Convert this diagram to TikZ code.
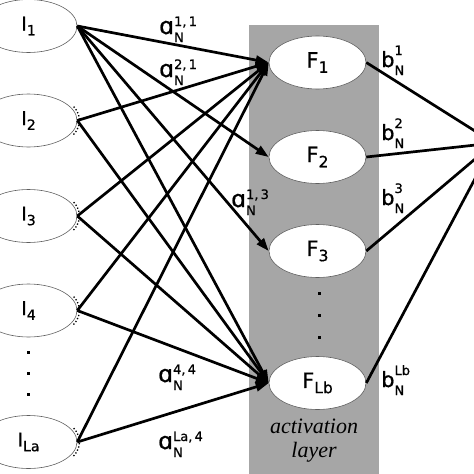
\documentclass[tikz,border=0pt]{standalone}
\usepackage{fontspec}
\usepackage{graphicx}
\setmainfont{DejaVu Sans}[FakeBold=0.8]
\newfontfamily\layerfont{Liberation Serif}
\usepackage{tikz}
\usetikzlibrary{
	positioning,		% Relative positioning
	shapes.geometric,	% Ellipse nodes
	arrows.meta,		% Arrow tips
	calc				% Coordinate calculation
}
\definecolor{layer-gray}{RGB}{166,166,166}
\definecolor{unit-border}{RGB}{95,95,95}

% Index set slightly below the baseline
\newcommand{\lowidx}[1]{\raisebox{-0.25em}{\scalebox{0.74}{#1}}}
% Weight letter with super- and subscript stacked
\newcommand{\wlabel}[4]{#1{\fontsize{13}{13}\selectfont\rlap{\raisebox{#4}{#2}}\rlap{\raisebox{-8pt}{#3}}\hphantom{#2}}}

\begin{document}
\begin{tikzpicture}[x=1pt, y=-1pt]
		\tikzstyle{unit} = [draw=unit-border, line width=0.6pt, fill=white, ellipse, inner sep=0pt, minimum width=97pt, minimum height=53pt]
		\tikzstyle{link} = [line width=2.7pt, -{Triangle[length=13pt, width=9pt]}]
		\tikzstyle{wire} = [line width=2.7pt]
		\tikzstyle{weight} = [anchor=base west, inner sep=0pt, font=\fontsize{23.5}{23.5}\selectfont]
		
		\useasboundingbox (0,0) rectangle (474,474);
		\clip (0,0) rectangle (474,474);
		
		% Activation layer
		\fill[layer-gray] (249,25) rectangle (379,480);
		\node[font=\layerfont\itshape\fontsize{22}{24}\selectfont, align=center, anchor=base] at (314,457) (layerText) {activation\\layer};
		
		% Input units
		\foreach \idx/\ypos/\name in {1/26/1, 2/120.5/2, 3/216/3, 4/310.5/4, 5/442/La}{
			\node[unit, font=\fontsize{19}{19}\selectfont] at (28.5,\ypos) (in\idx) {I\lowidx{\name}};
		}
		%% Dotted marks on the inputs
		\foreach \idx in {2, ..., 5}{
			\draw[dotted, line width=1.3pt] ($(in\idx.center)+(-28:51pt and 30pt)$) arc[start angle=-28, end angle=28, x radius=51pt, y radius=30pt];
		}
		%% Dots between inputs
		\foreach \ypos in {351, 372, 393}{
			\fill (26.5,\ypos) rectangle (29.5,\ypos+3);
		}
		
		% Activation units
		\foreach \idx/\ypos/\name in {1/62.5/1, 2/157/2, 3/251/3, 4/383/Lb}{
			\node[unit, font=\fontsize{21}{21}\selectfont] at (317.5,\ypos) (f\idx) {F\lowidx{\name}};
		}
		%% Dots between units
		\foreach \ypos in {292, 314, 336}{
			\fill (317.5,\ypos) rectangle (320.5,\ypos+3);
		}
		
		% Output (outside the frame)
		\coordinate (out) at (494,143);
		
		% Connections
		\foreach \fid in {1, ..., 4}{
			\draw[link] (in1.east) to (f\fid.west);
		}
		\foreach \iid in {2, ..., 5}{
			\draw[link] (in\iid.east) to (f1.west);
			\draw[link] (in\iid.east) to (f4.west);
		}
		\foreach \fid in {1, ..., 4}{
			\draw[wire] (f\fid.east) to (out);
		}
		
		% Weight labels
		\node[weight] at (159,34) (w11) {\wlabel{ɑ}{1,\,1}{N}{8pt}};
		\node[weight] at (159,77) (w21) {\wlabel{ɑ}{2,\,1}{N}{8pt}};
		\node[weight] at (231,207) (w13) {\wlabel{ɑ}{1,\,3}{N}{8pt}};
		\node[weight] at (158,382) (w44) {\wlabel{ɑ}{4,\,4}{N}{8pt}};
		\node[weight] at (158,449) (wLa4) {\wlabel{ɑ}{La,\,4}{N}{8pt}};
		%% Output weights
		\node[weight, font=\fontsize{21}{21}\selectfont] at (381,67) (b1) {\wlabel{b}{1}{N}{12pt}};
		\node[weight, font=\fontsize{21}{21}\selectfont] at (381,140) (b2) {\wlabel{b}{2}{N}{12pt}};
		\node[weight, font=\fontsize{21}{21}\selectfont] at (381,205) (b3) {\wlabel{b}{3}{N}{12pt}};
		\node[weight, font=\fontsize{21}{21}\selectfont] at (381,387) (bLb) {\wlabel{b}{Lb}{N}{12pt}};
	\end{tikzpicture}
\end{document}
